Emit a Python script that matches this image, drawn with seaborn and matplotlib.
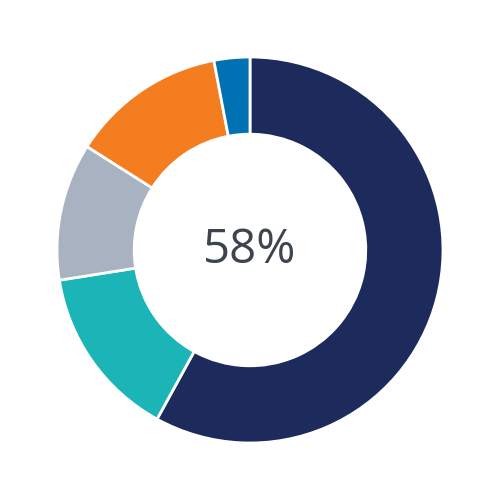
import matplotlib.pyplot as plt
import seaborn as sns

# share of each segment, clockwise from 12 o'clock
segments = ["Navy", "Teal", "Gray", "Orange", "Blue"]
shares = [58, 14.5, 11.5, 13, 3]
colors = ["#1c2b5b", "#1cb5b7", "#a8b2c0", "#f47d20", "#0072b4"]
center_label = "58%"

sns.set_theme(style="white")
plt.rcParams["font.family"] = ["Open Sans", "DejaVu Sans"]

fig = plt.figure(figsize=(5, 5), dpi=100)
ax = fig.add_axes([0, 0, 1, 1])
palette = sns.color_palette(colors)

ax.pie(
    shares,
    colors=palette,
    startangle=90,
    counterclock=False,
    radius=1,
    wedgeprops=dict(width=0.4, edgecolor="white", linewidth=2),
)
ax.text(0, 0, center_label, ha="center", va="center", fontsize=34, color="#3d4450")

lim = 250 / 193
ax.set_xlim(-lim, lim)
ax.set_ylim(-lim, lim)
ax.set_aspect("equal")
ax.axis("off")

fig.savefig("out.png", dpi=100, facecolor="white")
